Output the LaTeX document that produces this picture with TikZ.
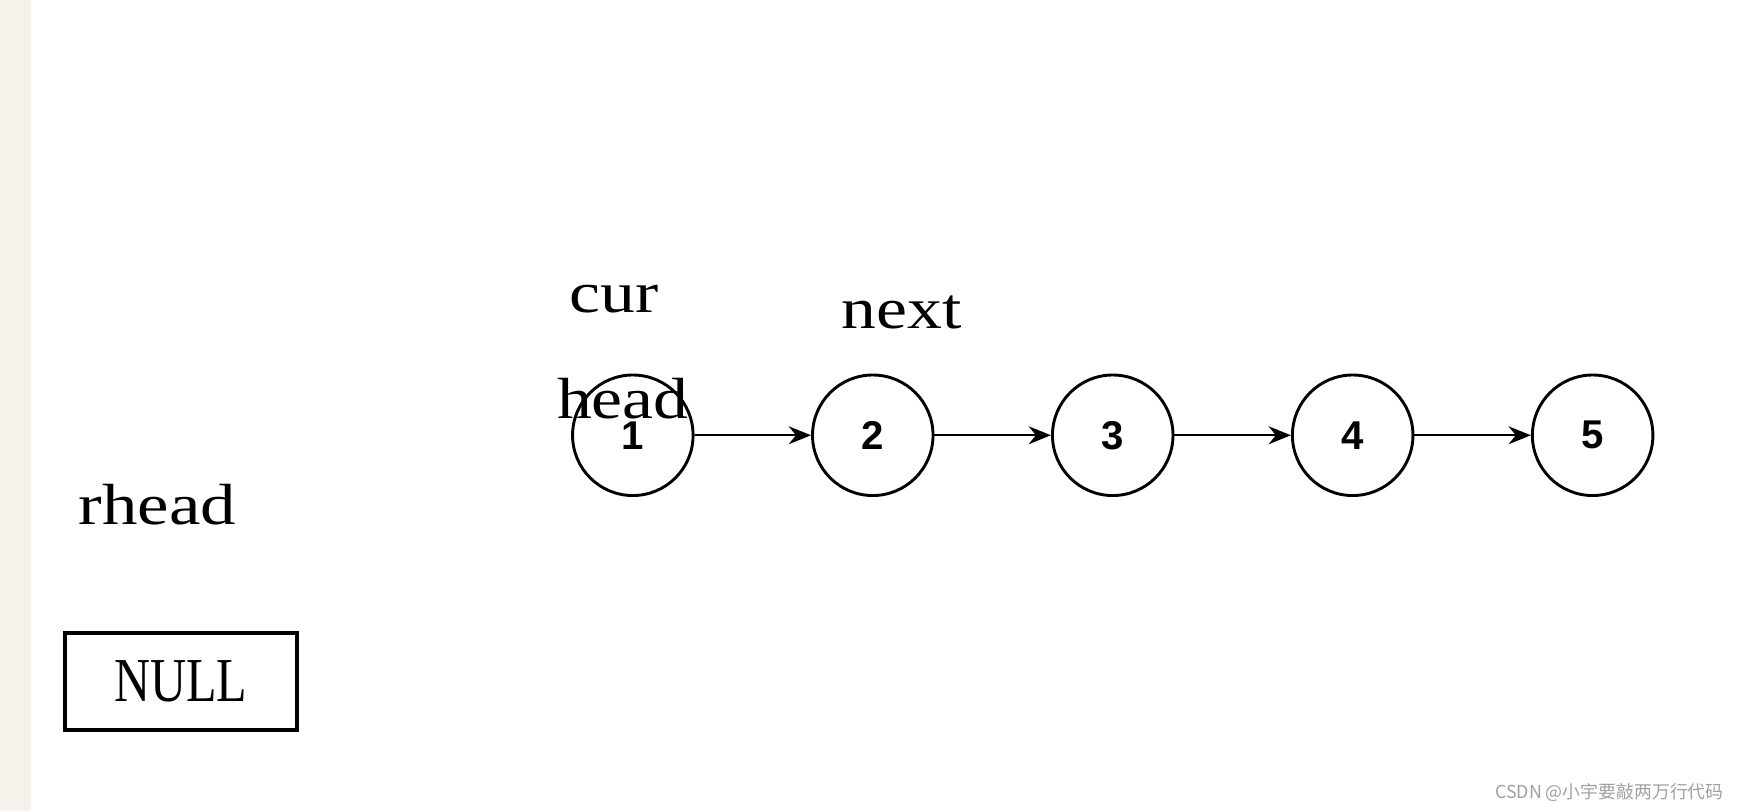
\documentclass[tikz,border=0pt]{standalone}
\usepackage{fontspec}
\setmainfont{Liberation Serif}
\newfontfamily\numfont{Liberation Sans}
\newfontfamily\cjk{Noto Sans CJK SC}
\usetikzlibrary{arrows.meta}
\begin{document}
\begin{tikzpicture}[x=0.5pt,y=-0.5pt,
  lnode/.style={circle,draw,line width=1.3pt,minimum size=54pt,inner sep=0pt,font=\numfont\bfseries\fontsize{18}{20}\selectfont},
  lbl/.style={inner sep=0pt,font=\fontsize{26}{30}\selectfont},
  arr/.style={-{Stealth[length=10pt,width=8pt]},line width=1.1pt}]
\useasboundingbox (0,0) rectangle (1568,727);
\fill[fill={rgb,255:red,245;green,242;blue,236}] (0,0) rectangle (28,727);
\foreach \i/\x in {1/567,2/782,3/997,4/1212,5/1427}
  \node[lnode] (n\i) at (\x,390) {\i};
\foreach \a/\b in {1/2,2/3,3/4,4/5}
  \draw[arr] (n\a) -- (n\b);
\node[lbl] (cur) at (550,268) {\scalebox{1.2}[1]{cur}};
\node[lbl] (next) at (808,280) {\scalebox{1.2}[1]{next}};
\node[lbl] (head) at (558,357) {\scalebox{1.2}[1]{head}};
\node[lbl] (rhead) at (141,452) {\scalebox{1.22}[1]{rhead}};
\node[draw,line width=1.6pt,minimum width=104pt,minimum height=43.5pt,inner sep=0pt,font=\fontsize{28}{30}\selectfont] (null) at (162,610.5) {\scalebox{0.8}[1]{NULL}};
\node[inner sep=0pt,text={rgb,255:red,160;green,160;blue,160},font=\cjk\fontsize{8}{10}\selectfont] (wm) at (1442,710) {CSDN @小宇要敲两万行代码};
\end{tikzpicture}
\end{document}
